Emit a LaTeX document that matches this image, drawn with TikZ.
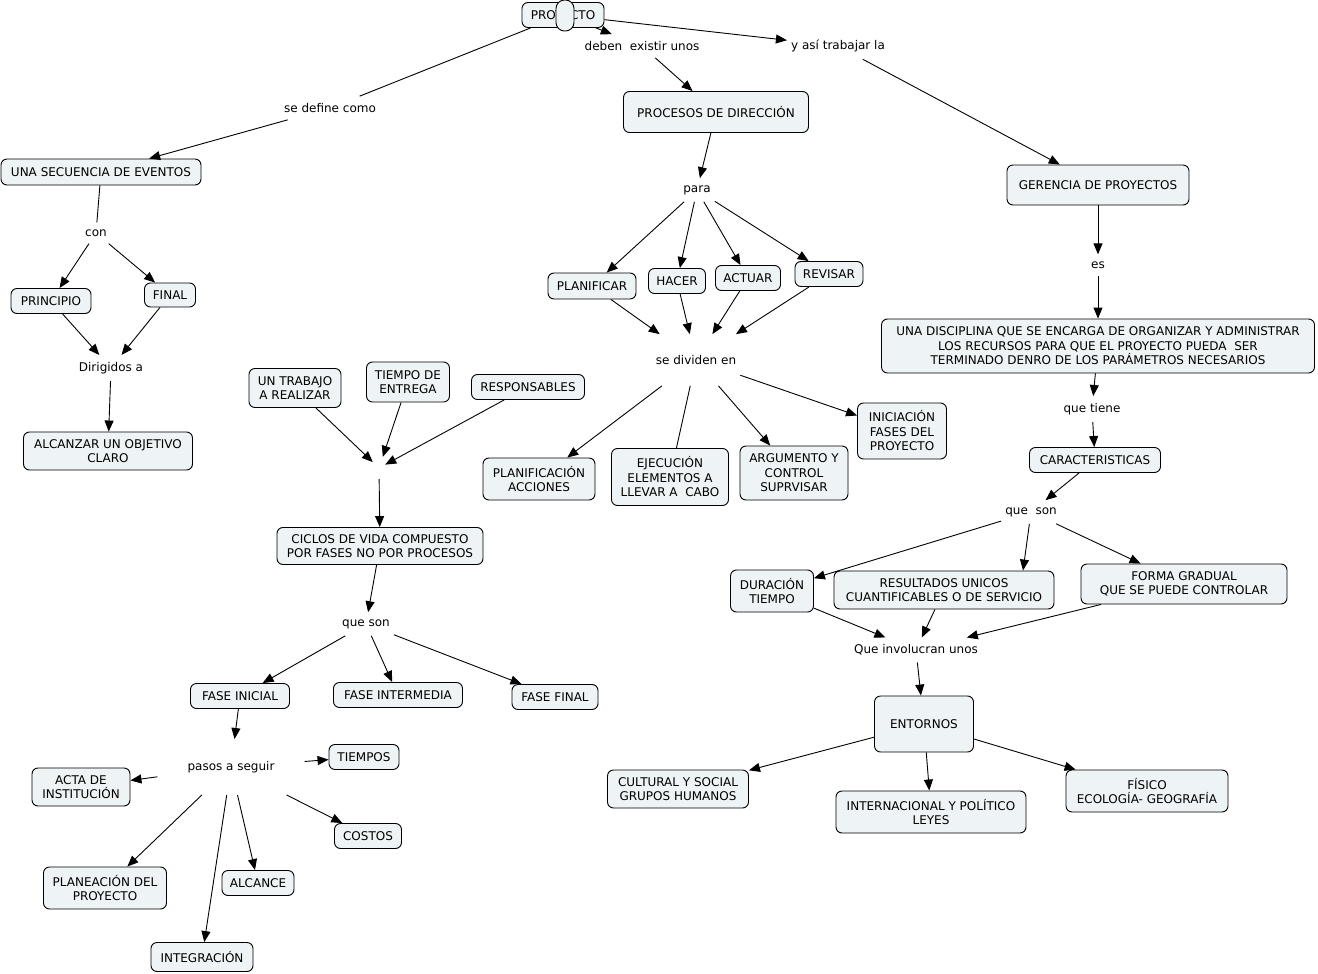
\documentclass[tikz,border=0pt]{standalone}
\usepackage{fontspec}
\setmainfont{DejaVu Sans}
\usetikzlibrary{arrows.meta}
\definecolor{boxfill}{RGB}{238,243,245}
\tikzset{
  concept/.style={draw=black, line width=0.9pt, fill=boxfill, rounded corners=6pt,
    align=center, inner sep=1pt, font=\fontsize{12}{14.5}\selectfont},
  phrase/.style={align=center, inner xsep=4pt, inner ysep=7pt, font=\fontsize{12}{14.5}\selectfont},
  arr/.style={draw, line width=0.9pt, -{Triangle[length=11pt,width=9pt]}},
  ln/.style={draw, line width=0.9pt},
}
\begin{document}
\begin{tikzpicture}[x=1pt,y=-1pt]
\useasboundingbox[fill=white] (0,0) rectangle (1318,974);
% concepts
\node[concept, minimum width=82pt, minimum height=25pt] (proy) at (563,15) {PROYECTO};
\node[concept, minimum width=18pt, minimum height=31pt, rounded corners=8.5pt] (handle) at (565,15.5) {};
\node[concept, minimum width=200pt, minimum height=26pt] (una) at (101,172) {UNA SECUENCIA DE EVENTOS};
\node[concept, minimum width=80pt, minimum height=25pt] (principio) at (51,301) {PRINCIPIO};
\node[concept, minimum width=51pt, minimum height=24pt] (final) at (170,295) {FINAL};
\node[concept, minimum width=169pt, minimum height=38pt] (alcanzar) at (108,451) {ALCANZAR UN OBJETIVO\\CLARO};
\node[concept, minimum width=92pt, minimum height=39pt] (trabajo) at (295,388) {UN TRABAJO\\A REALIZAR};
\node[concept, minimum width=83pt, minimum height=40pt] (tiempo) at (408,382) {TIEMPO DE\\ENTREGA};
\node[concept, minimum width=113pt, minimum height=25pt] (resp) at (528,387) {RESPONSABLES};
\node[concept, minimum width=206pt, minimum height=37pt] (ciclos) at (380,546) {CICLOS DE VIDA COMPUESTO\\POR FASES NO POR PROCESOS};
\node[concept, minimum width=99pt, minimum height=25pt] (finicial) at (240,696) {FASE INICIAL};
\node[concept, minimum width=129pt, minimum height=25pt] (fint) at (398,695) {FASE INTERMEDIA};
\node[concept, minimum width=86pt, minimum height=25pt] (ffinal) at (555,697) {FASE FINAL};
\node[concept, minimum width=98pt, minimum height=38pt] (acta) at (81,787) {ACTA DE\\INSTITUCIÓN};
\node[concept, minimum width=70pt, minimum height=25pt] (tiempos) at (364,757) {TIEMPOS};
\node[concept, minimum width=67pt, minimum height=25pt] (costos) at (368,836) {COSTOS};
\node[concept, minimum width=123pt, minimum height=42pt] (planea) at (105,888) {PLANEACIÓN DEL\\PROYECTO};
\node[concept, minimum width=72pt, minimum height=25pt] (alcance) at (258,883) {ALCANCE};
\node[concept, minimum width=102pt, minimum height=29pt] (integ) at (202,957) {INTEGRACIÓN};
\node[concept, minimum width=185pt, minimum height=41pt] (procesos) at (716,112) {PROCESOS DE DIRECCIÓN};
\node[concept, minimum width=88pt, minimum height=26pt] (planificar) at (592,286) {PLANIFICAR};
\node[concept, minimum width=57pt, minimum height=25pt] (hacer) at (677,281) {HACER};
\node[concept, minimum width=65pt, minimum height=25pt] (actuar) at (748,278) {ACTUAR};
\node[concept, minimum width=68pt, minimum height=25pt] (revisar) at (829,274) {REVISAR};
\node[concept, minimum width=112pt, minimum height=42pt] (planacc) at (539,479) {PLANIFICACIÓN\\ACCIONES};
\node[concept, minimum width=117pt, minimum height=57pt] (ejec) at (670,477) {EJECUCIÓN\\ELEMENTOS A\\LLEVAR A\ \ CABO};
\node[concept, minimum width=108pt, minimum height=54pt] (arg) at (794,473) {ARGUMENTO Y\\CONTROL\\SUPRVISAR};
\node[concept, minimum width=89pt, minimum height=56pt] (inic) at (902,431) {INICIACIÓN\\FASES DEL\\PROYECTO};
\node[concept, minimum width=182pt, minimum height=40pt] (gerencia) at (1098,185) {GERENCIA DE PROYECTOS};
\node[concept, minimum width=433pt, minimum height=54pt] (disc) at (1098,346) {UNA DISCIPLINA QUE SE ENCARGA DE ORGANIZAR Y ADMINISTRAR\\LOS RECURSOS PARA QUE EL PROYECTO PUEDA\ \ SER\\TERMINADO DENRO DE LOS PARÁMETROS NECESARIOS};
\node[concept, minimum width=131pt, minimum height=25pt] (caract) at (1095,460) {CARACTERISTICAS};
\node[concept, minimum width=83pt, minimum height=42pt] (duracion) at (772,591) {DURACIÓN\\TIEMPO};
\node[concept, minimum width=220pt, minimum height=38pt] (result) at (944,590) {RESULTADOS UNICOS\\CUANTIFICABLES O DE SERVICIO};
\node[concept, minimum width=206pt, minimum height=40pt] (forma) at (1184,584) {FORMA GRADUAL\\QUE SE PUEDE CONTROLAR};
\node[concept, minimum width=99pt, minimum height=56pt] (entornos) at (924,724) {ENTORNOS};
\node[concept, minimum width=141pt, minimum height=38pt] (cultural) at (678,789) {CULTURAL Y SOCIAL\\GRUPOS HUMANOS};
\node[concept, minimum width=190pt, minimum height=42pt] (internac) at (931,812) {INTERNACIONAL Y POLÍTICO\\LEYES};
\node[concept, minimum width=162pt, minimum height=42pt] (fisico) at (1147,791) {FÍSICO\\ECOLOGÍA- GEOGRAFÍA};
% phrases
\node[phrase] (ldefine) at (330,108) {se define como};
\node[phrase] (ldeben) at (642,46) {deben\ \ existir unos};
\node[phrase] (lyasi) at (838,46) {y así trabajar la};
\node[phrase] (lcon) at (96,233) {con};
\node[phrase] (ldir) at (111,368) {Dirigidos a};
\node[minimum width=12pt, minimum height=22pt, inner sep=0pt] (lempty) at (379,468) {};
\node[phrase] (lqueson) at (366,624) {que son};
\node[phrase, inner xsep=30pt, inner ysep=22pt] (lpasos) at (231,767) {pasos a seguir};
\node[phrase] (lpara) at (697,190) {para};
\node[phrase, inner ysep=21pt] (ldiv) at (696,360) {se dividen en};
\node[phrase] (les) at (1098,265) {es};
\node[phrase] (lqt) at (1092,409) {que tiene};
\node[phrase] (lqueson2) at (1031,512) {que\ \ son};
\node[phrase] (linv) at (916,650) {Que involucran unos};
% connectors
\draw[ln] (proy) -- (ldefine);
\draw[arr] (ldefine) -- (una);
\draw[arr] (proy) -- (ldeben);
\draw[arr] (ldeben) -- (procesos);
\draw[arr] (proy) -- (lyasi);
\draw[arr] (lyasi) -- (gerencia);
\draw[ln] (una) -- (lcon);
\draw[arr] (lcon) -- (principio);
\draw[arr] (lcon) -- (final);
\draw[arr] (principio) -- (ldir);
\draw[arr] (final) -- (ldir);
\draw[arr] (ldir) -- (alcanzar);
\draw[arr] (trabajo) -- (lempty);
\draw[arr] (tiempo) -- (lempty);
\draw[arr] (resp) -- (lempty);
\draw[arr] (lempty) -- (ciclos);
\draw[arr] (ciclos) -- (lqueson);
\draw[arr] (lqueson) -- (finicial);
\draw[arr] (lqueson) -- (fint);
\draw[arr] (lqueson) -- (ffinal);
\draw[arr] (finicial) -- (lpasos);
\draw[arr] (lpasos) -- (acta);
\draw[arr] (lpasos) -- (tiempos);
\draw[arr] (lpasos) -- (planea);
\draw[arr] (lpasos) -- (integ);
\draw[arr] (lpasos) -- (alcance);
\draw[arr] (lpasos) -- (costos);
\draw[arr] (procesos) -- (lpara);
\draw[arr] (lpara) -- (planificar);
\draw[arr] (lpara) -- (hacer);
\draw[arr] (lpara) -- (actuar);
\draw[arr] (lpara) -- (revisar);
\draw[arr] (planificar) -- (ldiv);
\draw[arr] (hacer) -- (ldiv);
\draw[arr] (actuar) -- (ldiv);
\draw[arr] (revisar) -- (ldiv);
\draw[arr] (ldiv) -- (planacc);
\draw[ln] (ldiv) -- (ejec);
\draw[arr] (ldiv) -- (arg);
\draw[arr] (ldiv) -- (inic);
\draw[arr] (gerencia) -- (les);
\draw[arr] (les) -- (disc);
\draw[arr] (disc) -- (lqt);
\draw[arr] (lqt) -- (caract);
\draw[arr] (caract) -- (lqueson2);
\draw[arr] (lqueson2) -- (duracion);
\draw[arr] (lqueson2) -- ([xshift=79pt]result.north);
\draw[arr] (lqueson2) -- (forma);
\draw[arr] (duracion) -- (linv);
\draw[arr] (result) -- (linv);
\draw[arr] (forma) -- (linv);
\draw[arr] (linv) -- (entornos);
\draw[arr] (entornos) -- (cultural);
\draw[arr] (entornos) -- (internac);
\draw[arr] (entornos) -- (fisico);
\end{tikzpicture}
\end{document}
